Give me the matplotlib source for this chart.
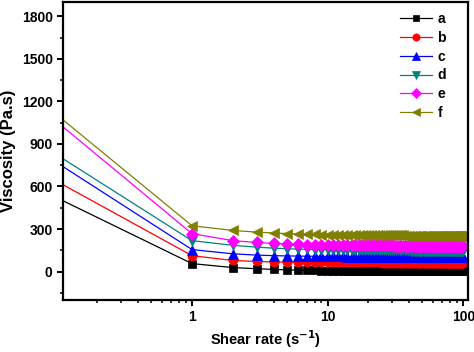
import matplotlib
matplotlib.use('Agg')
import matplotlib.pyplot as plt
from matplotlib.ticker import FixedLocator, LogLocator, NullFormatter, MultipleLocator

plt.rcParams['font.family'] = ['Liberation Sans', 'DejaVu Sans']
plt.rcParams['font.weight'] = 'bold'
plt.rcParams['mathtext.default'] = 'bf'

# shear rate grid: 0.1 then 1..100 s^-1
shear = [0.1] + list(range(1, 101))

# viscosity (Pa.s)
visc_a = [522, 56, 28, 20, 15, 12, 10, 9, 8, 7, 6,
          6, 6, 5, 5, 5, 5, 5, 4, 4, 4,
          4, 4, 4, 4, 4, 3, 3, 3, 3, 3,
          3, 3, 3, 3, 3, 3, 3, 3, 2, 2,
          2, 2, 2, 2, 2, 2, 2, 2, 2, 2,
          2, 2, 2, 2, 2, 2, 2, 2, 2, 2,
          2, 2, 2, 2, 2, 1, 1, 1, 1, 1,
          1, 1, 1, 1, 1, 1, 1, 1, 1, 1,
          1, 1, 1, 1, 1, 1, 1, 1, 1, 1,
          1, 1, 1, 1, 1, 1, 1, 1, 1, 1]
visc_b = [638, 112, 78, 71, 68, 66, 65, 65, 64, 64, 64,
          64, 64, 64, 64, 64, 64, 64, 64, 64, 64,
          64, 64, 64, 64, 63, 63, 63, 63, 63, 63,
          63, 63, 63, 63, 63, 63, 63, 63, 63, 63,
          63, 63, 63, 63, 63, 63, 63, 63, 63, 63,
          63, 63, 63, 63, 63, 63, 63, 63, 63, 63,
          63, 63, 63, 63, 63, 63, 63, 63, 63, 63,
          63, 63, 63, 63, 63, 63, 63, 63, 63, 63,
          63, 63, 63, 63, 63, 63, 63, 63, 63, 63,
          63, 63, 63, 63, 63, 63, 63, 63, 63, 63]
visc_c = [770, 155, 125, 116, 112, 110, 109, 108, 108, 107, 107,
          107, 107, 107, 106, 106, 106, 106, 106, 106, 106,
          106, 106, 106, 106, 106, 106, 105, 105, 105, 105,
          105, 105, 105, 105, 105, 105, 105, 105, 105, 105,
          105, 105, 105, 105, 105, 105, 105, 105, 105, 105,
          105, 105, 105, 105, 105, 105, 105, 105, 105, 105,
          105, 105, 105, 105, 105, 105, 105, 105, 105, 105,
          105, 105, 105, 105, 105, 105, 105, 105, 105, 105,
          105, 105, 105, 105, 105, 105, 105, 105, 105, 105,
          105, 105, 105, 105, 105, 105, 105, 105, 105, 105]
visc_d = [825, 218, 185, 172, 165, 161, 158, 156, 155, 154, 153,
          153, 152, 152, 152, 151, 151, 151, 151, 150, 150,
          150, 150, 150, 150, 150, 149, 149, 149, 149, 149,
          149, 149, 149, 149, 149, 149, 149, 149, 149, 149,
          148, 148, 148, 148, 148, 148, 148, 148, 148, 148,
          148, 148, 148, 148, 148, 148, 148, 148, 148, 148,
          148, 148, 148, 148, 148, 148, 148, 148, 148, 148,
          148, 148, 148, 148, 148, 148, 148, 148, 148, 148,
          148, 148, 148, 148, 148, 148, 148, 148, 148, 148,
          148, 148, 148, 148, 148, 148, 148, 148, 148, 148]
visc_e = [1059, 267, 218, 205, 198, 195, 192, 190, 189, 188, 187,
          187, 186, 186, 186, 185, 185, 185, 185, 185, 184,
          184, 184, 184, 184, 184, 184, 184, 184, 184, 184,
          183, 183, 183, 183, 183, 183, 183, 183, 183, 183,
          183, 183, 183, 183, 183, 183, 183, 183, 183, 183,
          183, 183, 183, 183, 183, 183, 183, 183, 183, 183,
          183, 183, 183, 183, 183, 183, 183, 183, 183, 183,
          183, 183, 183, 183, 183, 183, 183, 183, 183, 183,
          183, 183, 183, 183, 183, 183, 183, 183, 183, 183,
          183, 183, 183, 183, 183, 183, 183, 183, 183, 183]
visc_f = [1108, 323, 290, 278, 272, 268, 265, 263, 262, 261, 260,
          259, 259, 258, 258, 258, 257, 257, 257, 257, 256,
          256, 256, 256, 256, 256, 255, 255, 255, 255, 255,
          255, 255, 255, 255, 255, 255, 254, 254, 254, 254,
          254, 254, 254, 254, 254, 254, 254, 254, 254, 254,
          254, 254, 254, 254, 254, 254, 254, 254, 254, 253,
          253, 253, 253, 253, 253, 253, 253, 253, 253, 253,
          253, 253, 253, 253, 253, 253, 253, 253, 253, 253,
          253, 253, 253, 253, 253, 253, 253, 253, 253, 253,
          253, 253, 253, 253, 253, 253, 253, 253, 253, 253]

labels = ['a', 'b', 'c', 'd', 'e', 'f']
series = [visc_a, visc_b, visc_c, visc_d, visc_e, visc_f]
colors = ['black', 'red', 'blue', '#008080', 'magenta', '#808000']
markers = ['s', 'o', '^', 'v', 'D', '<']
sizes = [6, 6.5, 6.5, 6.5, 6, 7]

fig = plt.figure(figsize=(4.74, 3.52), dpi=100)
ax = fig.add_axes([0.133, 0.148, 0.854, 0.846])

for y, lab, c, m, s in zip(series, labels, colors, markers, sizes):
    ax.plot(shear, y, color=c, marker=m, markersize=s, lw=0.9,
            markeredgewidth=0.5, label=lab)

ax.set_xscale('log')
ax.set_xlim(0.112, 108)
ax.set_ylim(-200, 1900)
ax.xaxis.set_major_locator(FixedLocator([1, 10, 100]))
ax.set_xticklabels(['1', '10', '100'])
ax.xaxis.set_minor_locator(LogLocator(base=10, subs=range(2, 10)))
ax.xaxis.set_minor_formatter(NullFormatter())
ax.yaxis.set_major_locator(MultipleLocator(300))
ax.yaxis.set_minor_locator(MultipleLocator(150))

for sp in ax.spines.values():
    sp.set_linewidth(1.6)
ax.tick_params(which='major', direction='out', length=4, width=1.4, labelsize=10)
ax.tick_params(which='minor', direction='out', length=2.5, width=1.1)
for t in ax.get_xticklabels() + ax.get_yticklabels():
    t.set_fontweight('bold')

ax.set_xlabel('Shear rate (s$^{-1}$)', fontsize=10.5, fontweight='bold', labelpad=3)
ax.set_ylabel('Viscosity (Pa.s)', fontsize=12, fontweight='bold', labelpad=4)

leg = ax.legend(loc='upper right', frameon=False, fontsize=10, handlelength=2.3,
                labelspacing=0.35, borderaxespad=0.3, handletextpad=0.4,
                markerscale=0.8, bbox_to_anchor=(0.97, 1.0))
for t in leg.get_texts():
    t.set_fontweight('bold')

fig.savefig('out.png', dpi=100)
